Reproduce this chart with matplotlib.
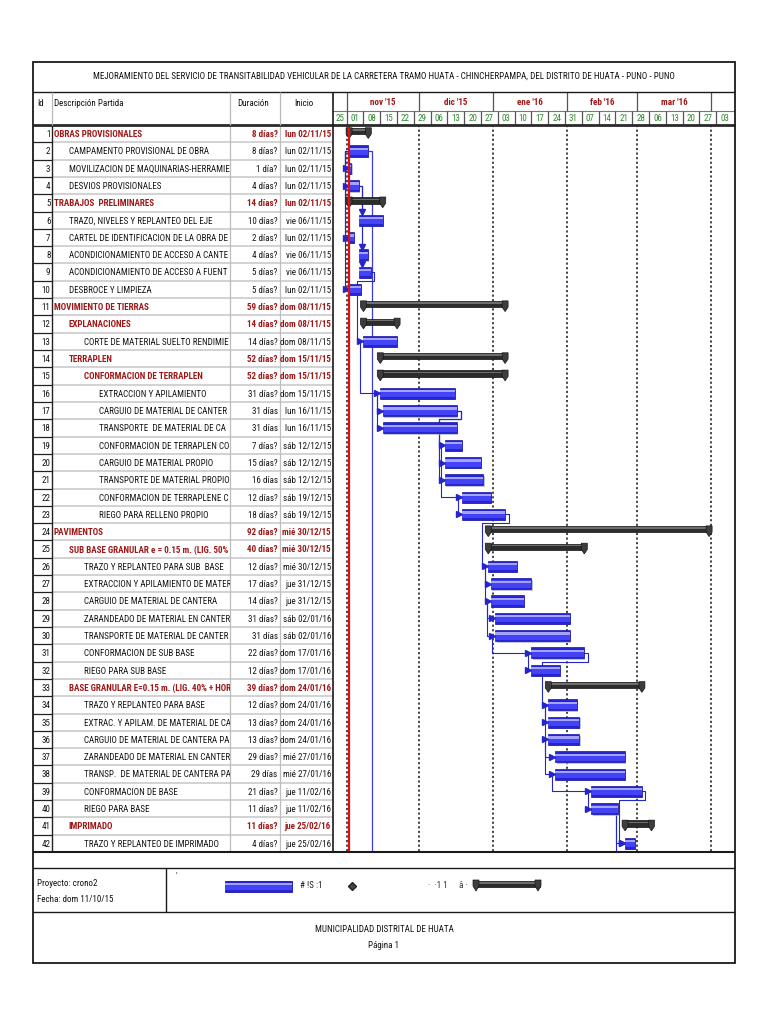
import matplotlib
matplotlib.use("Agg")
import matplotlib.pyplot as plt
import matplotlib.dates as mdates
from matplotlib import font_manager as fm
from matplotlib.patches import Polygon, Rectangle
from datetime import datetime

# ---------------- DATA ----------------
title = ("MEJORAMIENTO DEL SERVICIO DE TRANSITABILIDAD VEHICULAR DE LA CARRETERA TRAMO "
         "HUATA - CHINCHERPAMPA, DEL DISTRITO DE HUATA - PUNO - PUNO")
task_ids = list(range(1, 43))
task_names = [
    "OBRAS PROVISIONALES", "CAMPAMENTO PROVISIONAL DE OBRA", "MOVILIZACION DE MAQUINARIAS-HERRAMIE",
    "DESVIOS PROVISIONALES", "TRABAJOS  PRELIMINARES", "TRAZO, NIVELES Y REPLANTEO DEL EJE",
    "CARTEL DE IDENTIFICACION DE LA OBRA DE", "ACONDICIONAMIENTO DE ACCESO A CANTE",
    "ACONDICIONAMIENTO DE ACCESO A FUENT", "DESBROCE Y LIMPIEZA", "MOVIMIENTO DE TIERRAS",
    "EXPLANACIONES", "CORTE DE MATERIAL SUELTO RENDIMIE", "TERRAPLEN", "CONFORMACION DE TERRAPLEN",
    "EXTRACCION Y APILAMIENTO", "CARGUIO DE MATERIAL DE CANTER", "TRANSPORTE  DE MATERIAL DE CA",
    "CONFORMACION DE TERRAPLEN CO", "CARGUIO DE MATERIAL PROPIO", "TRANSPORTE DE MATERIAL PROPIO",
    "CONFORMACION DE TERRAPLENE C", "RIEGO PARA RELLENO PROPIO", "PAVIMENTOS",
    "SUB BASE GRANULAR e = 0.15 m. (LIG. 50% +", "TRAZO Y REPLANTEO PARA SUB  BASE",
    "EXTRACCION Y APILAMIENTO DE MATER", "CARGUIO DE MATERIAL DE CANTERA",
    "ZARANDEADO DE MATERIAL EN CANTER", "TRANSPORTE DE MATERIAL DE CANTER", "CONFORMACION DE SUB BASE",
    "RIEGO PARA SUB BASE", "BASE GRANULAR E=0.15 m. (LIG. 40% + HOR", "TRAZO Y REPLANTEO PARA BASE",
    "EXTRAC. Y APILAM. DE MATERIAL DE CA", "CARGUIO DE MATERIAL DE CANTERA PA",
    "ZARANDEADO DE MATERIAL EN CANTER", "TRANSP.  DE MATERIAL DE CANTERA PA", "CONFORMACION DE BASE",
    "RIEGO PARA BASE", "IMPRIMADO", "TRAZO Y REPLANTEO DE IMPRIMADO",
]
task_levels = [1, 2, 2, 2, 1, 2, 2, 2, 2, 2, 1, 2, 3, 2, 3, 4, 4, 4, 4, 4, 4, 4, 4,
               1, 2, 3, 3, 3, 3, 3, 3, 3, 2, 3, 3, 3, 3, 3, 3, 3, 2, 3]
task_summary = [1, 0, 0, 0, 1, 0, 0, 0, 0, 0, 1, 1, 0, 1, 1, 0, 0, 0, 0, 0, 0, 0, 0,
                1, 1, 0, 0, 0, 0, 0, 0, 0, 1, 0, 0, 0, 0, 0, 0, 0, 1, 0]
dur_labels = [
    "8 días?", "8 días?", "1 día?", "4 días?", "14 días?", "10 días?", "2 días?", "4 días?",
    "5 días?", "5 días?", "59 días?", "14 días?", "14 días?", "52 días?", "52 días?", "31 días?",
    "31 días", "31 días", "7 días?", "15 días?", "16 días", "12 días?", "18 días?", "92 días?",
    "40 días?", "12 días?", "17 días?", "14 días?", "31 días?", "31 días", "22 días?", "12 días?",
    "39 días?", "12 días?", "13 días?", "13 días?", "29 días?", "29 días", "21 días?", "11 días?",
    "11 días?", "4 días?",
]
start_labels = [
    "lun 02/11/15", "lun 02/11/15", "lun 02/11/15", "lun 02/11/15", "lun 02/11/15", "vie 06/11/15",
    "lun 02/11/15", "vie 06/11/15", "vie 06/11/15", "lun 02/11/15", "dom 08/11/15", "dom 08/11/15",
    "dom 08/11/15", "dom 15/11/15", "dom 15/11/15", "dom 15/11/15", "lun 16/11/15", "lun 16/11/15",
    "sáb 12/12/15", "sáb 12/12/15", "sáb 12/12/15", "sáb 19/12/15", "sáb 19/12/15", "mié 30/12/15",
    "mié 30/12/15", "mié 30/12/15", "jue 31/12/15", "jue 31/12/15", "sáb 02/01/16", "sáb 02/01/16",
    "dom 17/01/16", "dom 17/01/16", "dom 24/01/16", "dom 24/01/16", "dom 24/01/16", "dom 24/01/16",
    "mié 27/01/16", "mié 27/01/16", "jue 11/02/16", "jue 11/02/16", "jue 25/02/16", "jue 25/02/16",
]
# dependency links: (type, predecessor, successor)
links = [
    ("ss", 2, 3), ("ss", 2, 4), ("ss", 2, 7), ("ss", 2, 10), ("off", 2, None),
    ("fs", 4, 6), ("fs", 4, 8), ("fs", 4, 9), ("fs", 9, 13), ("ss", 13, 16),
    ("ss", 16, 17), ("ss", 16, 18), ("fs", 17, 19), ("fs", 17, 20), ("fs", 17, 21),
    ("ss", 19, 22), ("ss", 22, 23), ("fs", 23, 26), ("ss", 26, 27), ("ss", 26, 28),
    ("ss", 28, 29), ("ss", 28, 30), ("ss", 30, 31), ("ss", 31, 32), ("fs", 31, 34),
    ("ss", 34, 35), ("ss", 34, 36), ("ss", 36, 37), ("ss", 36, 38), ("ss", 38, 39),
    ("ss", 39, 40), ("fs", 39, 42), ("drop", 40, 42), ("offdrop", 40, None),
]
week_labels = ["25", "01", "08", "15", "22", "29", "06", "13", "20", "27", "03", "10",
               "17", "24", "31", "07", "14", "21", "28", "06", "13", "20", "27", "03"]
first_week = "2015-10-25"
month_labels = ["nov '15", "dic '15", "ene '16", "feb '16", "mar '16"]
month_starts = ["2015-11-01", "2015-12-01", "2016-01-01", "2016-02-01", "2016-03-01", "2016-04-01"]
status_date = "2015-11-02"
project_lines = ["Proyecto: crono2", "Fecha: dom 11/10/15"]
footer_lines = ["MUNICIPALIDAD DISTRITAL DE HUATA", "Página 1"]

# ---------------- FONT ----------------
def pick_font():
    fl = fm.fontManager.ttflist
    names = {f.name for f in fl}
    for n in ["Liberation Sans Narrow", "Arial Narrow", "Roboto Condensed", "Open Sans Condensed",
              "Noto Sans Condensed", "DejaVu Sans Condensed"]:
        if n in names:
            return n, "normal"
    for fam in ["Noto Sans", "Open Sans", "Roboto", "DejaVu Sans"]:
        for f in fl:
            if f.name == fam and "condensed" in str(f.stretch):
                return fam, f.stretch
    return "Liberation Sans", "normal"

FAM, STR = pick_font()

W, H = 768, 1024
fig = plt.figure(figsize=(W / 100, H / 100), dpi=100)
fig.patch.set_facecolor("white")
renderer = fig.canvas.get_renderer()


def fp(size, weight="normal"):
    return fm.FontProperties(family=[FAM, "DejaVu Sans"], size=size, weight=weight, stretch=STR)


def twidth(s, size, weight="normal"):
    w, h, d = renderer.get_text_width_height_descent(s, fp(size, weight), ismath=False)
    return w


def clamp(v, a, b):
    return max(a, min(b, v))


FS = clamp(7.3 * 139 / twidth("CAMPAMENTO PROVISIONAL DE OBRA", 7.3), 5.3, 7.8)
FS_T = clamp(7.5 * 577 / twidth(title, 7.5), 5.0, 8.5)

RED = "#9e1717"
GREEN = "#2d8a2d"
BLUE_LINK = "#2525cc"


def pax(x0, y0, x1, y1):
    a = fig.add_axes([x0 / W, 1 - y1 / H, (x1 - x0) / W, (y1 - y0) / H])
    a.set_facecolor("none")
    a.axis("off")
    return a


# ---------------- parse data ----------------
n = len(task_ids)
dd = [int(s.split()[0]) for s in dur_labels]
sx = [mdates.date2num(datetime.strptime(s.split()[1], "%d/%m/%y")) for s in start_labels]
fx = [a + b for a, b in zip(sx, dd)]
rows = task_ids

x_nov1 = mdates.date2num(datetime(2015, 11, 1))
PXD = 2.4  # pixels per day
XL = (x_nov1 - (346.7 - 333) / PXD, x_nov1 + (735 - 346.7) / PXD)
PX = 1 / PXD

# ---------------- background ----------------
bg = pax(0, 0, W, H)
bg.set_xlim(0, W)
bg.set_ylim(H, 0)

# ---------------- table ----------------
ax_t = pax(33, 125, 333, 852)
ax_t.set_xlim(33, 333)
ax_t.set_ylim(n + 0.5, 0.5)
ax_d = pax(52, 125, 230, 852)
ax_d.set_xlim(52, 230)
ax_d.set_ylim(n + 0.5, 0.5)

bounds = [i + 0.5 for i in range(0, n)]
ax_t.hlines(bounds, 52, 333, color="#c6c6c6", lw=1.1, zorder=1)
ax_t.hlines(bounds, 33, 52, color="#222222", lw=0.9, zorder=2)
ax_t.vlines([52], 0.5, n + 0.5, color="#222222", lw=1.0, zorder=2)
ax_t.vlines([230, 280], 0.5, n + 0.5, color="#bdbdbd", lw=0.9, zorder=1)

for i, name, lev, summ, dl, sl in zip(rows, task_names, task_levels, task_summary, dur_labels, start_labels):
    col = RED if summ else "#141414"
    wt = "bold" if summ else "normal"
    ax_t.text(50.5, i + 0.05, str(i), ha="right", va="center", color="#141414", fontproperties=fp(FS))
    ax_d.text(53.5 + 15.3 * (lev - 1), i + 0.05, name, ha="left", va="center", color=col,
              fontproperties=fp(FS, wt), clip_on=True)
    ax_t.text(277.5, i + 0.05, dl, ha="right", va="center", color=col, fontproperties=fp(FS, wt))
    ax_t.text(331, i + 0.05, sl, ha="right", va="center", color=col, fontproperties=fp(FS, wt))

# ---------------- gantt ----------------
ax_g = pax(333, 125, 735, 852)
ax_g.set_xlim(*XL)
ax_g.set_ylim(n + 0.5, 0.5)

month_x = [mdates.date2num(datetime.strptime(m, "%Y-%m-%d")) for m in month_starts]
ax_g.vlines(month_x, 0.5, n + 0.5, color="#111111", lw=1.1, linestyles=(0, (1.4, 1.6)), zorder=1)
ax_g.axvline(mdates.date2num(datetime.strptime(status_date, "%Y-%m-%d")), color="#e01010", lw=1.6, zorder=6)


def larrow(x, y):
    ax_g.plot([x - 3.0 * PX], [y], marker=">", ms=4.5, color=BLUE_LINK, mec=BLUE_LINK, lw=0, zorder=5)


def darrow(x, y):
    ax_g.plot([x], [y - 0.3 - 0.17], marker="v", ms=4.5, color=BLUE_LINK, mec=BLUE_LINK, lw=0, zorder=5)


for kind, p, s in links:
    yp = p
    pf, ps = fx[p - 1], sx[p - 1]
    if kind == "ss":
        ys, ss = s, sx[s - 1]
        xl = ps - 3.8 * PX
        ax_g.plot([ps, xl, xl, ss - 2 * PX], [yp, yp, ys, ys], color=BLUE_LINK, lw=0.8, zorder=2)
        larrow(ss, ys)
    elif kind == "fs":
        ys, ss = s, sx[s - 1]
        if ss >= pf - 0.01:
            xv = ss + 3 * PX
            ax_g.plot([pf, xv, xv], [yp, yp, ys - 0.4], color=BLUE_LINK, lw=0.8, zorder=2)
            darrow(xv, ys)
        else:
            xr = pf + 3.5 * PX
            yb = yp + 0.5
            xl = ss - 6 * PX
            ax_g.plot([pf, xr, xr, xl, xl, ss - 2 * PX], [yp, yp, yb, yb, ys, ys],
                      color=BLUE_LINK, lw=0.8, zorder=2)
            larrow(ss, ys)
    elif kind == "drop":
        ys, ss = s, sx[s - 1]
        x = pf - 1.5 * PX
        ax_g.plot([x, x, ss - 2 * PX], [yp + 0.3, ys, ys], color=BLUE_LINK, lw=0.8, zorder=2)
        larrow(ss, ys)
    elif kind == "off":
        x = pf + 3.5 * PX
        ax_g.plot([pf, x, x], [yp, yp, n + 0.6], color="#3b3bd6", lw=0.9, zorder=2, clip_on=True)
    elif kind == "offdrop":
        x = pf - 1.5 * PX
        ax_g.plot([x, x], [yp + 0.3, n + 0.6], color=BLUE_LINK, lw=0.8, zorder=2, clip_on=True)

for i, summ in zip(rows, task_summary):
    s, d = sx[i - 1], dd[i - 1]
    if summ:
        ax_g.barh(i - 0.14, d, left=s, height=0.36, color="#2c2c2c", edgecolor="#111111", lw=0.5, zorder=3)
        ax_g.barh(i - 0.2, d, left=s, height=0.1, color="#6e6e6e", lw=0, zorder=3)
        for xc in (s, s + d):
            top = i - 0.34
            cap = Polygon([(xc - 1.25, top), (xc + 1.25, top), (xc + 1.25, top + 0.36),
                           (xc, top + 0.62), (xc - 1.25, top + 0.36)], closed=True,
                          facecolor="#3d3d3d", edgecolor="#151515", lw=0.5, zorder=4)
            ax_g.add_patch(cap)
    else:
        ax_g.barh(i + 0.09, d, left=s + 0.5, height=0.62, color="#a9a9b8", lw=0, zorder=3, alpha=0.7)
        ax_g.barh(i, d, left=s, height=0.64, color="#2424d2", edgecolor="#1616a6", lw=0.5, zorder=3)
        ax_g.barh(i + 0.02, d, left=s, height=0.42, color="#4444f6", lw=0, zorder=3)
        ax_g.barh(i - 0.12, d, left=s, height=0.13, color="#a4a4ff", lw=0, zorder=3)

# ---------------- timescale header ----------------
ax_h = pax(333, 92, 735, 125)
ax_h.set_xlim(*XL)
ax_h.set_ylim(125, 92)
w0 = mdates.date2num(datetime.strptime(first_week, "%Y-%m-%d"))
week_x = [w0 + 7 * k for k in range(len(week_labels))]
ax_h.hlines([111], XL[0], XL[1], color="#777777", lw=0.8)
ax_h.vlines([x for x in week_x if x > XL[0]], 111, 124.5, color="#555555", lw=0.9)
ax_h.vlines(month_x, 92, 111, color="#555555", lw=0.9)
for x, lab in zip(week_x, week_labels):
    xc = (max(x, XL[0]) + min(x + 7, XL[1])) / 2
    ax_h.text(xc, 118.3, lab, ha="center", va="center", color=GREEN, fontproperties=fp(FS))
for k, lab in enumerate(month_labels):
    ax_h.text((month_x[k] + month_x[k + 1]) / 2, 102.5, lab, ha="center", va="center",
              color=RED, fontproperties=fp(FS, "bold"))

# ---------------- overlay: frame, titles, legend, footer ----------------
ov = pax(0, 0, W, H)
ov.set_xlim(0, W)
ov.set_ylim(H, 0)
LK = "#1a1a1a"
ov.add_patch(Rectangle((33, 62), 702, 901, fill=False, edgecolor=LK, lw=1.3, zorder=10))
ov.hlines([92], 33, 735, color=LK, lw=1.0)
ov.hlines([125], 33, 735, color="#2a2a2a", lw=2.0)
ov.hlines([852], 33, 735, color=LK, lw=1.5)
ov.hlines([868, 912], 33, 735, color=LK, lw=1.0)
ov.vlines([166], 868, 912, color=LK, lw=1.0)
ov.vlines([333], 92, 852, color=LK, lw=1.2)
ov.vlines([230, 280], 92, 125, color="#b8b8b8", lw=0.9)
ov.vlines([52], 92, 125, color="#b8b8b8", lw=0.9)

ov.text(384, 76, title, ha="center", va="center", color="#111111", fontproperties=fp(FS_T))
ov.text(37, 103, "Id", ha="left", va="center", color="#111111", fontproperties=fp(FS))
ov.text(54, 103, "Descripción Partida", ha="left", va="center", color="#111111", fontproperties=fp(FS))
ov.text(253, 103, "Duración", ha="center", va="center", color="#111111", fontproperties=fp(FS))
ov.text(304, 103, "Inicio", ha="center", va="center", color="#111111", fontproperties=fp(FS))

ov.text(37, 883, project_lines[0], ha="left", va="center", color="#111111", fontproperties=fp(FS))
ov.text(37, 899, project_lines[1], ha="left", va="center", color="#111111", fontproperties=fp(FS))
ov.text(176, 876, "'", ha="center", va="center", color="#333333", fontproperties=fp(FS))

# legend: task bar
ov.add_patch(Rectangle((225, 880.5), 67, 11, facecolor="#2424d2", edgecolor="#1616a6", lw=0.6))
ov.add_patch(Rectangle((225, 883.5), 67, 6, facecolor="#4444f6", lw=0))
ov.add_patch(Rectangle((225, 882.5), 67, 2, facecolor="#a4a4ff", lw=0))
ov.text(300, 886, "# !S :1", ha="left", va="center", color="#222222", fontproperties=fp(FS))
ov.plot([352], [886], marker="D", ms=4.5, color="#444444", mec="#222222", lw=0)
ov.text(428, 886, "·  ·1 1", ha="left", va="center", color="#333333", fontproperties=fp(FS))
ov.text(459, 886, "â ·", ha="left", va="center", color="#333333", fontproperties=fp(FS))
# legend: summary bar
ov.add_patch(Rectangle((474, 881), 66, 6, facecolor="#2c2c2c", edgecolor="#111111", lw=0.5))
ov.add_patch(Rectangle((474, 882), 66, 1.6, facecolor="#6e6e6e", lw=0))
for xc in (476, 538):
    ov.add_patch(Polygon([(xc - 3, 880), (xc + 3, 880), (xc + 3, 886), (xc, 891), (xc - 3, 886)],
                         closed=True, facecolor="#3d3d3d", edgecolor="#151515", lw=0.5))

ov.text(384, 930, footer_lines[0], ha="center", va="center", color="#111111", fontproperties=fp(FS))
ov.text(384, 946, footer_lines[1], ha="center", va="center", color="#111111", fontproperties=fp(FS))

fig.savefig("out.png", dpi=100, facecolor="white")
